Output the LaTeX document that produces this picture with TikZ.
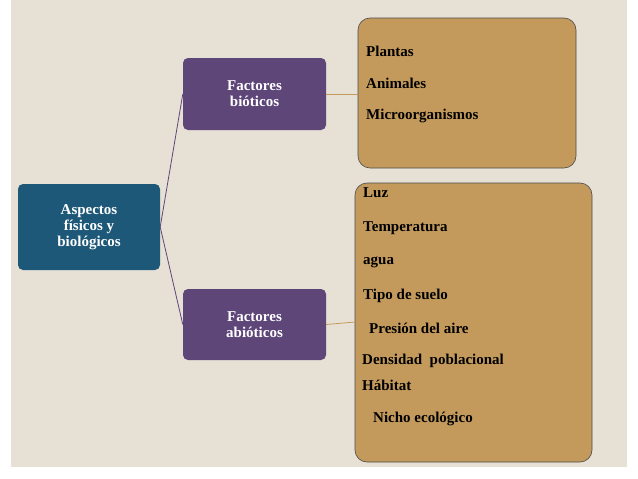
\documentclass[tikz,border=0pt]{standalone}
\usepackage{fontspec}
\setmainfont{Liberation Serif}
\definecolor{bg}{HTML}{E6E0D5}
\definecolor{teal}{HTML}{1E5878}
\definecolor{purp}{HTML}{5E4679}
\definecolor{tan}{HTML}{C39A5C}
\begin{document}
\begin{tikzpicture}[x=1pt,y=-1pt,
  dark/.style={rounded corners=5pt,text=white,font=\bfseries\fontsize{15}{16}\selectfont,align=center,inner sep=0pt},
  tanbox/.style={rounded corners=12pt,fill=tan,draw=black!70,line width=0.6pt},
  item/.style={anchor=west,font=\bfseries\fontsize{15}{16}\selectfont,inner sep=0pt},
  conp/.style={draw=purp,line width=0.8pt},
  cont/.style={draw=tan,line width=0.8pt}]
\useasboundingbox (0,0) rectangle (638,479);
\fill[white] (0,0) rectangle (638,479);
\fill[bg] (11,0) rectangle (627,467);
\node[dark,fill=teal,minimum width=142pt,minimum height=86pt] (asp) at (89,227) {Aspectos\\físicos y\\biológicos};
\node[dark,fill=purp,minimum width=143pt,minimum height=72pt] (bio) at (254.5,94) {Factores\\bióticos};
\node[dark,fill=purp,minimum width=143pt,minimum height=71pt] (abio) at (254.5,324.5) {Factores\\abióticos};
\draw[tanbox] (358,18) rectangle (576,168);
\coordinate (tb) at (358,94);
\draw[tanbox] (355,183) rectangle (592,462);
\coordinate (bb) at (355,322);
\draw[conp] (asp.east) -- (bio.west);
\draw[conp] (asp.east) -- (abio.west);
\draw[cont] (bio.east) -- (tb);
\draw[cont] (abio.east) -- (bb);
\node[item] (p1) at (366,51) {Plantas};
\node[item] (p2) at (366,83) {Animales};
\node[item] (p3) at (366,116) {Microorganismos};
\node[item] (a1) at (363,193) {Luz};
\node[item] (a2) at (363,228) {Temperatura};
\node[item] (a3) at (363,262) {agua};
\node[item] (a4) at (363,296) {Tipo de suelo};
\node[item] (a5) at (369,328) {Presión del aire};
\node[item] (a6) at (362,361) {Densidad\ \ poblacional};
\node[item] (a7) at (362,385) {Hábitat};
\node[item] (a8) at (373,419) {Nicho ecológico};
\end{tikzpicture}
\end{document}
